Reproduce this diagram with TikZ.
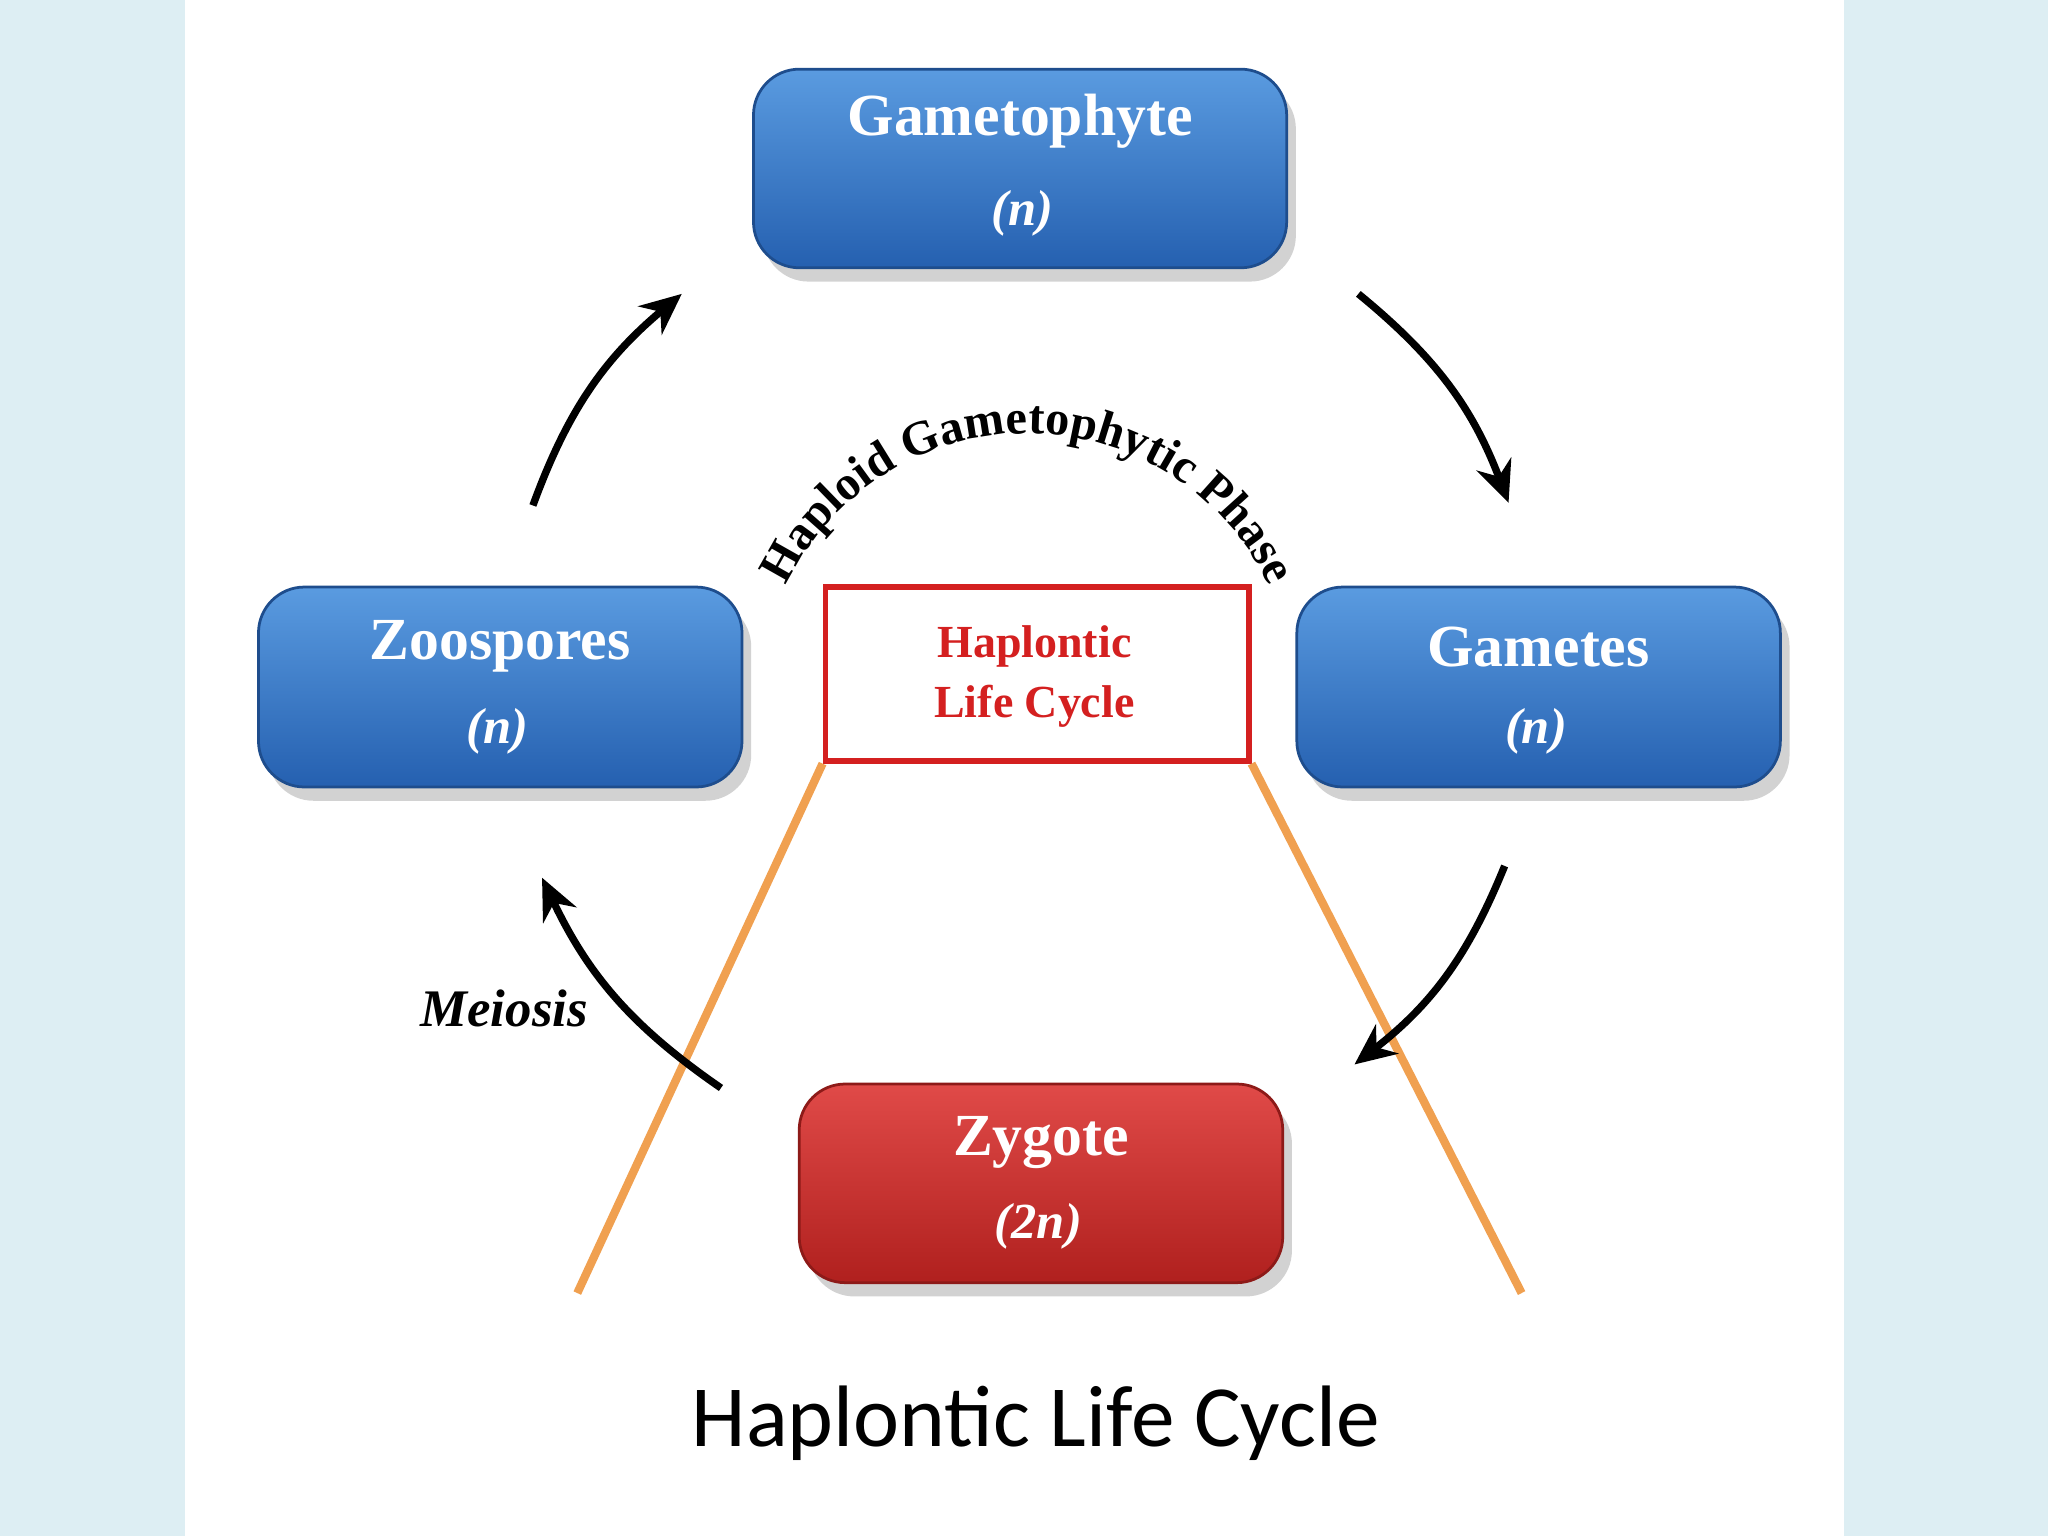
\documentclass[tikz,border=0pt]{standalone}
\usepackage{fontspec}
\setmainfont{Liberation Serif}
\newfontfamily\titlefont{Carlito}
\usetikzlibrary{shadows,decorations.text,arrows.meta}
\definecolor{bgblue}{HTML}{DDEEF3}
\definecolor{btop}{HTML}{5A9BE0}
\definecolor{bbot}{HTML}{2560B0}
\definecolor{rtop}{HTML}{E04A48}
\definecolor{rbot}{HTML}{B0201E}
\definecolor{orng}{HTML}{F0A050}
\definecolor{ctr}{HTML}{D42020}
\tikzset{
  blubox/.style={rounded corners=10pt, top color=btop, bottom color=bbot, draw=bbot!80!black, line width=0.6pt,
    drop shadow={shadow xshift=2pt,shadow yshift=-3pt,opacity=0.35}, text=white, align=center, inner sep=0pt},
  redbox/.style={blubox, top color=rtop, bottom color=rbot, draw=rbot!80!black},
  cyc/.style={-{Stealth[length=9pt,width=8pt]}, line width=1.6pt},
  bigt/.style={font=\bfseries\fontsize{13}{15}\selectfont},
  smt/.style={font=\bfseries\itshape\fontsize{11}{13}\selectfont},
}
\begin{document}
\begin{tikzpicture}[x=0.01cm,y=-0.01cm]
\useasboundingbox (0,0) rectangle (1568,1176);
\fill[bgblue] (0,0) rectangle (1568,1176);
\fill[white] (142,0) rectangle (1412,1176);
% boxes
\node[blubox, minimum width=4.08cm, minimum height=1.52cm] (gph) at (781,129) {};
\node[bigt,text=white] at (781,93) {Gametophyte};
\node[smt,text=white] at (783,163) {(n)};
\node[blubox, minimum width=3.7cm, minimum height=1.53cm] (zoo) at (383,526) {};
\node[bigt,text=white] at (383,495) {Zoospores};
\node[smt,text=white] at (381,560) {(n)};
\node[blubox, minimum width=3.7cm, minimum height=1.53cm] (gam) at (1178,526) {};
\node[bigt,text=white] at (1178,495) {Gametes};
\node[smt,text=white] at (1176,560) {(n)};
\node[redbox, minimum width=3.7cm, minimum height=1.52cm] (zyg) at (797,906) {};
\node[bigt,text=white] at (797,875) {Zygote};
\node[smt,text=white] at (795,939) {(2n)};
% center box
\node[draw=ctr, line width=1.2pt, fill=white, minimum width=3.24cm, minimum height=1.33cm, inner sep=0pt] (cb) at (794,516) {};
\node[text=ctr, font=\bfseries\fontsize{10}{13}\selectfont, align=center] at (792,518) {Haplontic\\Life Cycle};
% orange lines
\coordinate (ol) at (442,990);
\coordinate (or) at (1165,990);
\draw[orng, line width=1.8pt] (cb.south west) -- (ol);
\draw[orng, line width=1.8pt] (cb.south east) -- (or);
% cycle arrows
\coordinate (a1) at (408,387); \coordinate (a2) at (522,225);
\coordinate (b1) at (1040,225); \coordinate (b2) at (1155,385);
\coordinate (c1) at (1152,663); \coordinate (c2) at (1037,815);
\coordinate (d1) at (552,833); \coordinate (d2) at (415,672);
\draw[cyc] (a1) to[bend left=15] (a2);
\draw[cyc] (b1) to[bend left=15] (b2);
\draw[cyc] (c1) to[bend left=15] (c2);
\draw[cyc] (d1) to[bend left=15] (d2);
\node[font=\bfseries\itshape\fontsize{11.5}{13}\selectfont] (mei) at (386,772) {Meiosis};
% arc text
\path[decorate, decoration={text along path, text align=center,
  text={|\bfseries\fontsize{10.5}{12}\selectfont|Haploid Gametophytic Phase}}]
  (787,537) ++(-158:205) arc[start angle=-158, end angle=-22, radius=205];
% title
\node[font=\titlefont\fontsize{19}{22}\selectfont] (title) at (793,1090) {Haplontic Life Cycle};
\end{tikzpicture}
\end{document}
